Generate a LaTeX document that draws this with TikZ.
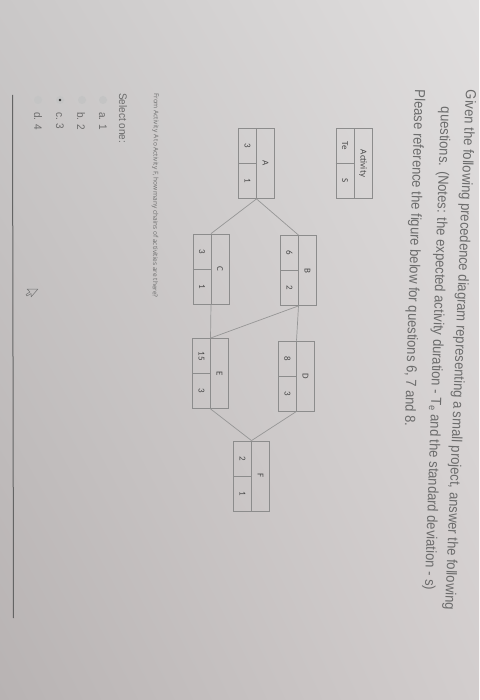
\documentclass[tikz,border=0pt]{standalone}
\usepackage{fontspec}
\usetikzlibrary{shadings}
\setmainfont{Liberation Sans}
\newfontfamily\boxfont{Carlito}
\newfontfamily\qfont{Open Sans}
\definecolor{bgUL}{RGB}{202,200,200}
\definecolor{bgUR}{RGB}{224,222,222}
\definecolor{bgLL}{RGB}{184,179,179}
\definecolor{bgLR}{RGB}{210,205,205}
\definecolor{maintext}{RGB}{108,108,108}
\definecolor{boxline}{RGB}{140,140,140}
\definecolor{connline}{RGB}{150,150,150}
\definecolor{boxtext}{RGB}{72,72,72}
\definecolor{radiofill}{RGB}{196,196,196}
\definecolor{rule}{RGB}{100,100,100}
\newcommand\actnode[6]{%
  \node[actbox] (#1) at (#2,#3) {};
  \draw[boxline, line width=0.8pt] (#1.north) -- (#1.south);
  \draw[boxline, line width=0.8pt] (#1.west) -- (#1.center);
  \node[lbl] (#1-name) at (#2+9,#3) {#4};
  \node[lbl] (#1-te) at (#2-9,#3-17.5) {#5};
  \node[lbl] (#1-s) at (#2-9,#3+17.5) {#6};
}
\begin{document}
\begin{tikzpicture}[x=1pt,y=-1pt,
  txt/.style={inner sep=0pt, outer sep=0pt, text=maintext, anchor=base west,
              font=\fontsize{13}{15}\selectfont},
  actbox/.style={draw=boxline, line width=0.8pt, minimum width=36pt, minimum height=70pt, inner sep=0pt},
  lbl/.style={inner sep=0pt, font=\boxfont\fontsize{9}{9}\selectfont, text=boxtext, rotate=-90},
  conn/.style={draw=connline, line width=0.7pt},
  opt/.style={inner sep=0pt, anchor=base west, rotate=-90, yscale=1.1, text=maintext, font=\fontsize{10}{12}\selectfont},
  radio/.style={circle, fill=radiofill, minimum size=8pt, inner sep=0pt}]
\useasboundingbox (0,0) rectangle (479,700);
\shade[upper left=bgUL, upper right=bgUR, lower left=bgLL, lower right=bgLR] (0,0) rectangle (479,700);

% heading text
\node[txt, rotate=-92.3, yscale=1.12] (t1) at (466,90) {Given the following precedence diagram representing a small project, answer the following};
\node[txt, rotate=-91.9, yscale=1.12] (t2) at (441,107) {questions. (Notes: the expected activity duration - T\textsubscript{e} and the standard deviation - s)};
\node[txt, rotate=-91.7, yscale=1.12] (t3) at (415,90) {Please reference the figure below for questions 6, 7 and 8.};

% diagram
\actnode{L}{354}{163.5}{Activity}{Te}{S}
\actnode{A}{256.5}{163.5}{A}{3}{1}
\actnode{B}{298.5}{270.5}{B}{6}{2}
\actnode{C}{211}{269}{C}{3}{1}
\actnode{D}{296.5}{376}{D}{8}{3}
\actnode{E}{210.5}{373.5}{E}{15}{3}
\actnode{F}{251.5}{476}{F}{2}{1}

\draw[conn] (A.south) -- (B.north);
\draw[conn] (A.south) -- (C.north);
\draw[conn] (B.south) -- (D.north);
\draw[conn] (B.south) -- (E.north);
\draw[conn] (C.south) -- (E.north);
\draw[conn] (D.south) -- (F.north);
\draw[conn] (E.south) -- (F.north);

% question
\node[inner sep=0pt, anchor=base west, rotate=-90.3, text=maintext, font=\qfont\fontsize{6.5}{8}\selectfont] (q) at (154,93) {From Activity A to Activity F, how many chains of activities are there?};
\node[opt] (sel) at (119,93) {Select one:};
\node[radio] (ra) at (103,100) {};
\node[radio] (rb) at (82,100) {};
\node[radio] (rc) at (60,100) {};
\node[radio] (rd) at (38,100) {};
\fill[black!80] (rc.center) circle (1.4pt);
\node[opt] (oa) at (99,112) {a. 1};
\node[opt] (ob) at (77,112) {b. 2};
\node[opt] (oc) at (56,112) {c. 3};
\node[opt] (od) at (34,112) {d. 4};

% left rule
\coordinate (r1) at (12.5,95);
\coordinate (r2) at (13.5,618);
\draw[rule, line width=1pt] (r1) -- (r2);

% mouse cursor
\draw[black!55, line width=0.5pt, line join=round] (38,289) -- (27,289) -- (30,292) -- (26,294.5) -- (27,296) -- (31,293.5) -- (31,297) -- cycle;
\end{tikzpicture}
\end{document}
